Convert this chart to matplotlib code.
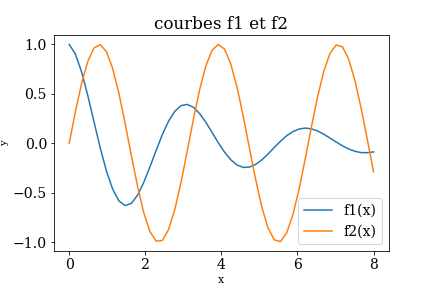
import matplotlib
matplotlib.use("Agg")
import matplotlib.pyplot as plt

x = [0.000, 0.163, 0.327, 0.490, 0.653, 0.816, 0.980, 1.143, 1.306, 1.469,
     1.633, 1.796, 1.959, 2.122, 2.286, 2.449, 2.612, 2.776, 2.939, 3.102,
     3.265, 3.429, 3.592, 3.755, 3.918, 4.082, 4.245, 4.408, 4.571, 4.735,
     4.898, 5.061, 5.224, 5.388, 5.551, 5.714, 5.878, 6.041, 6.204, 6.367,
     6.531, 6.694, 6.857, 7.020, 7.184, 7.347, 7.510, 7.673, 7.837, 8.000]

f1 = [1.000, 0.902, 0.720, 0.481, 0.215, -0.048, -0.283, -0.465, -0.583, -0.630,
      -0.608, -0.525, -0.396, -0.238, -0.071, 0.089, 0.224, 0.324, 0.381, 0.393,
      0.364, 0.300, 0.212, 0.110, 0.005, -0.089, -0.166, -0.219, -0.244, -0.241,
      -0.214, -0.168, -0.109, -0.043, 0.020, 0.076, 0.118, 0.144, 0.154, 0.146,
      0.124, 0.091, 0.052, 0.012, -0.026, -0.058, -0.081, -0.094, -0.095, -0.087]

f2 = [0.000, 0.321, 0.608, 0.830, 0.965, 0.998, 0.926, 0.755, 0.505, 0.201,
      -0.123, -0.435, -0.701, -0.893, -0.990, -0.983, -0.872, -0.669, -0.395, -0.079,
      0.245, 0.543, 0.784, 0.941, 1.000, 0.953, 0.804, 0.572, 0.278, -0.045,
      -0.363, -0.642, -0.854, -0.976, -0.994, -0.908, -0.725, -0.466, -0.158, 0.168,
      0.475, 0.732, 0.912, 0.995, 0.974, 0.849, 0.634, 0.353, 0.035, -0.288]

labels = ["f1(x)", "f2(x)"]

plt.rcParams["font.family"] = "DejaVu Serif"
plt.rcParams["font.size"] = 14
fig, ax = plt.subplots(figsize=(6, 4), dpi=72)
fig.subplots_adjust(left=0.125, right=0.9, top=0.88, bottom=0.127)
ax.plot(x, f1, label=labels[0])
ax.plot(x, f2, label=labels[1])
ax.set_title("courbes f1 et f2")
ax.set_xlabel("x", fontsize=11, labelpad=2.5)
ax.set_ylabel("y", fontsize=10)
ax.legend(loc="lower right")
fig.savefig("out.png", dpi=72)
